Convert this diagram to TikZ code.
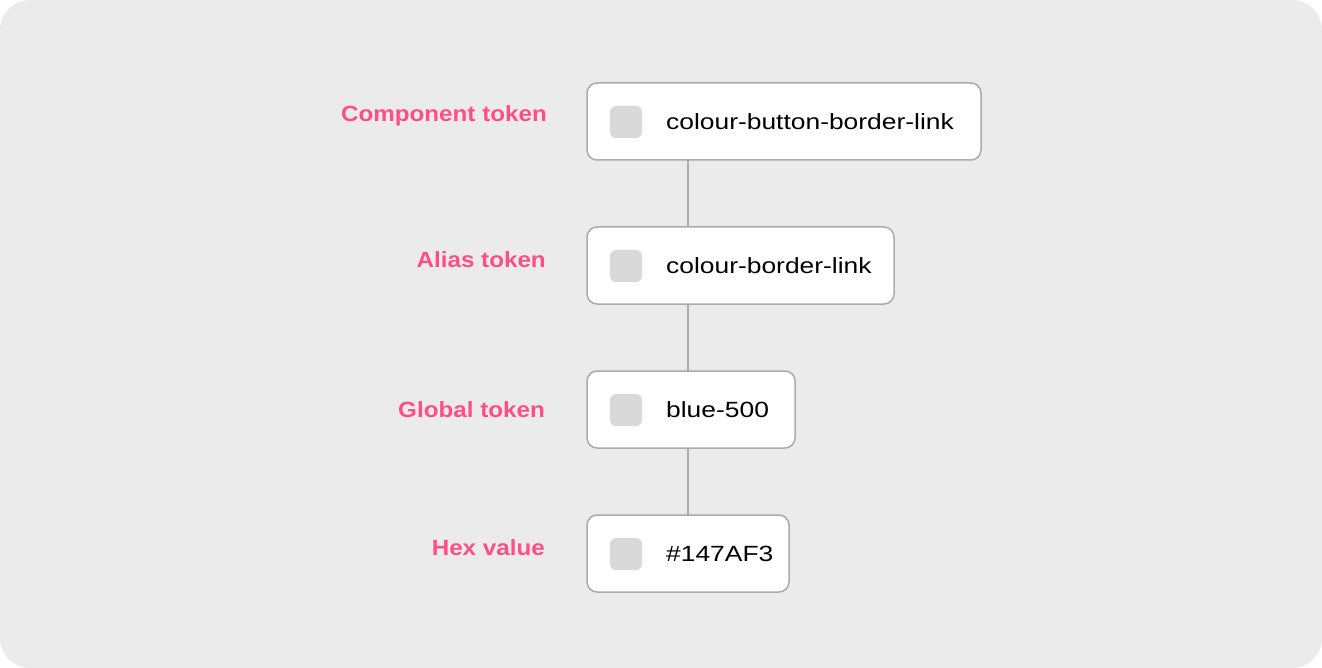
\documentclass[tikz,border=0pt]{standalone}
\usepackage{fontspec}
\setmainfont{Liberation Sans}
\newfontfamily\tokfont[FakeStretch=1.2]{Liberation Sans}
\newfontfamily\labfont[FakeStretch=1.1]{Liberation Sans}
\definecolor{bg}{HTML}{EBEBEB}
\definecolor{edge}{HTML}{ABABAB}
\definecolor{sw}{HTML}{D9D9D9}
\definecolor{pink}{HTML}{FF4F8B}
\begin{document}
\begin{tikzpicture}[x=1pt,y=-1pt,
  tokbox/.style={draw=edge,line width=1.5pt,fill=white,rounded corners=10pt},
  swatch/.style={fill=sw,rounded corners=6pt},
  tok/.style={anchor=west,inner sep=0pt,font=\tokfont\fontsize{22}{26}\selectfont},
  lab/.style={anchor=east,inner sep=0pt,text=pink,font=\labfont\fontsize{22}{26}\selectfont\bfseries},
  link/.style={draw=edge,line width=1.5pt}]
\useasboundingbox (0,0) rectangle (1322,668);
\fill[white] (0,0) rectangle (1322,668);
\fill[bg,rounded corners=30pt] (0,0) rectangle (1322,668);
\draw[tokbox] (587,83) rectangle (981,160);
\coordinate (b1) at (688,160);
\draw[tokbox] (587,227) rectangle (894,304);
\coordinate (b2t) at (688,227); \coordinate (b2) at (688,304);
\draw[tokbox] (587,371) rectangle (795,448);
\coordinate (b3t) at (688,371); \coordinate (b3) at (688,448);
\draw[tokbox] (587,515) rectangle (789,592);
\coordinate (b4t) at (688,515);
\draw[link] (b1) -- (b2t);
\draw[link] (b2) -- (b3t);
\draw[link] (b3) -- (b4t);
\foreach \y in {106,250,394,538}{\fill[swatch] (610,\y) rectangle ++(32,32);}
\node[tok] (t1) at (666,122) {colour-button-border-link};
\node[tok] (t2) at (666,266) {colour-border-link};
\node[tok] (t3) at (666,410) {blue-500};
\node[tok] (t4) at (666,554) {\#147AF3};
\node[lab] (l1) at (547,116) {Component token};
\node[lab] (l2) at (546,260) {Alias token};
\node[lab] (l3) at (545,410) {Global token};
\node[lab] (l4) at (545,548) {Hex value};
\end{tikzpicture}
\end{document}
